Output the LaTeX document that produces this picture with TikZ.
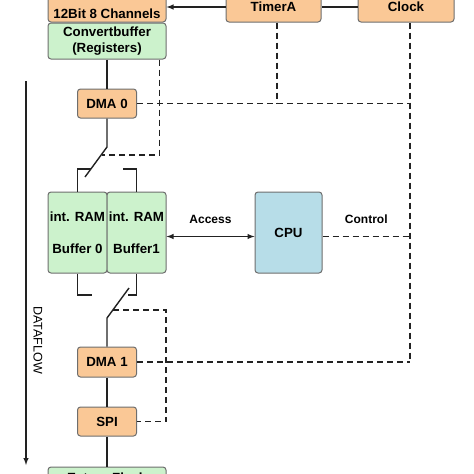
\documentclass[tikz,border=0pt]{standalone}
\usepackage{fontspec}
\setmainfont{Liberation Sans}
\definecolor{orangefill}{HTML}{FAC896}
\definecolor{greenfill}{HTML}{CCF2CC}
\definecolor{cpufill}{HTML}{B7DDE8}
\definecolor{boxline}{HTML}{6E6E6E}
\definecolor{wirecol}{HTML}{222222}

\begin{document}
\begin{tikzpicture}[x=1pt,y=-1pt,
		font=\fontsize{13.3}{16}\selectfont\bfseries,
		box/.style={draw=boxline, line width=1pt, rounded corners=3pt,
			inner sep=0pt, align=center},
		wire/.style={draw=wirecol, line width=1.4pt},
		dashline/.style={draw=wirecol, line width=1.6pt, dash pattern=on 6pt off 4pt}]
		\useasboundingbox (0,0) rectangle (474,474);
		\clip (0,0) rectangle (474,474);

		% top row
		\node[box, fill=orangefill,
		minimum width=118pt,
		minimum height=50pt,
		label={[name=adclabel, anchor=south]south:12Bit 8 Channels}] (adc) at (107,-3) {};
		\node[box, fill=orangefill,
		minimum width=95pt,
		minimum height=30pt] (timer) at (273.5,7) {TimerA};
		\node[box, fill=orangefill,
		minimum width=96pt,
		minimum height=30pt] (clock) at (406,7) {Clock};
		\draw[wire, -latex] (timer.west) -- (timer.west -| adc.east);
		\draw[wire] (clock.west) -- (timer.east);

		% data path
		\node[box, fill=greenfill,
		minimum width=118pt,
		minimum height=36pt] (conv) at (107,41) {Convertbuffer\\(Registers)};
		\node[box, fill=orangefill,
		minimum width=59pt,
		minimum height=29pt] (dma0) at (107,103.5) {DMA 0};
		\node[box, fill=greenfill,
		minimum width=59pt,
		minimum height=81pt] (buf0) at (77.5,232.5) {int. RAM\\[16pt]Buffer 0};
		\node[box, fill=greenfill,
		minimum width=59pt,
		minimum height=81pt] (buf1) at (136.5,232.5) {int. RAM\\[16pt]Buffer1};
		\node[box, fill=cpufill,
		minimum width=67pt,
		minimum height=81pt] (cpu) at (288.5,232.5) {CPU};
		\node[box, fill=orangefill,
		minimum width=59pt,
		minimum height=30pt] (dma1) at (107,362) {DMA 1};
		\node[box, fill=orangefill,
		minimum width=59pt,
		minimum height=29pt] (spi) at (107,421.5) {SPI};
		\node[box, fill=greenfill,
		minimum width=118pt,
		minimum height=22pt] (flash) at (107,478) {Extern Flash};

		% switch in front of the buffers
		\coordinate (sw0pivot) at (107,147);
		\coordinate (sw0tip) at (85,177);
		\coordinate (c0top) at (91,169);
		\coordinate (c1top) at (123,169);
		\draw[wire] (conv.south) -- (dma0.north);
		\draw[wire] (dma0.south) -- (sw0pivot) -- (sw0tip);
		\draw[wire] (buf0.north) |- (c0top);
		\draw[wire] (buf1.north) |- (c1top);

		% switch behind the buffers
		\coordinate (sw1pivot) at (107,318);
		\coordinate (sw1tip) at (129,288);
		\coordinate (c0bot) at (92,295);
		\coordinate (c1bot) at (128,295);
		\draw[wire] (buf0.south) |- (c0bot);
		\draw[wire] (buf1.south) |- (c1bot);
		\draw[wire] (dma1.north) -- (sw1pivot) -- (sw1tip);
		\draw[wire] (dma1.south) -- (spi.north);
		\draw[wire] (spi.south) -- (flash.north);

		% access
		\draw[wire, latex-latex] ([yshift=-4pt]buf1.east) -- ([yshift=-4pt]cpu.west)
		node[midway, above=9pt, font=\fontsize{12}{14}\selectfont\bfseries] (access) {Access};

		% control lines
		\coordinate (sw0ctl) at (102,155);
		\coordinate (sw1ctl) at (113,310);
		\coordinate (ctlbus) at (410,362);
		\draw[dashline] ([xshift=-7pt]conv.south east) |- (sw0ctl);
		\draw[dashline] (sw1ctl) -| ([xshift=29pt]spi.east) -- (spi.east);
		\draw[dashline] (clock.south -| ctlbus) -- (ctlbus);
		\draw[dashline] ([xshift=3.5pt]timer.south) -- ([xshift=3.5pt]timer.south |- dma0.east);
		\draw[dashline] (dma0.east) -- (dma0.east -| ctlbus);
		\draw[dashline] (dma1.east) -- (ctlbus);
		\draw[dashline] ([yshift=-4pt]cpu.east) -- ([yshift=-4pt]cpu.east -| ctlbus)
		node[midway, above=9pt, font=\fontsize{12}{14}\selectfont\bfseries] (control) {Control};

		% dataflow
		\coordinate (flowtop) at (26,81);
		\coordinate (flowend) at (26,465);
		\draw[wire, -latex] (flowtop) -- (flowend);
		\node[rotate=-90, font=\fontsize{12.5}{15}\selectfont] (dataflow) at (38,340) {DATAFLOW};
\end{tikzpicture}
\end{document}
